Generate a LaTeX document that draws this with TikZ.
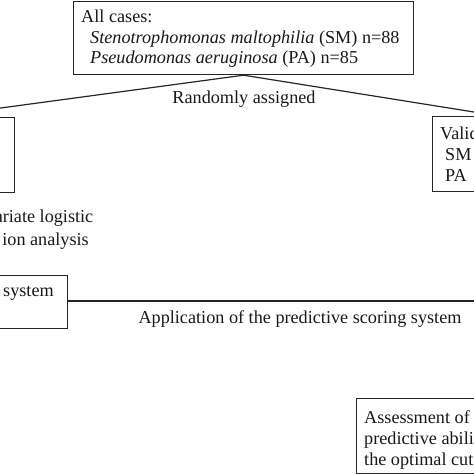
\documentclass[tikz,border=0pt]{standalone}
\usepackage{fontspec}
\setmainfont{Liberation Serif}
\begin{document}
\begin{tikzpicture}[x=1pt,y=-1pt,
  every node/.style={font=\fontsize{18.2}{21}\selectfont, text=black!90},
  boxed/.style={draw=black!85, line width=1.2pt, inner sep=0pt, rectangle},
  txt/.style={inner sep=0pt, anchor=base west},
  conn/.style={draw=black!85, line width=1.2pt}]
\useasboundingbox (0,0) rectangle (474,474);
\clip (0,0) rectangle (474,474);
% boxes
\node[boxed, minimum width=340pt, minimum height=73pt, anchor=north west] (all) at (73,1) {};
\node[boxed, minimum width=120pt, minimum height=75pt, anchor=north east] (train) at (15,117) {};
\node[boxed, minimum width=120pt, minimum height=75pt, anchor=north west] (valid) at (432,116) {};
\node[boxed, minimum width=150pt, minimum height=53pt, anchor=north east] (score) at (68,275) {};
\node[boxed, minimum width=150pt, minimum height=75pt, anchor=north west] (assess) at (356,398) {};
% texts
\node[txt] (t1) at (81,22) {All cases:};
\node[txt] (t2) at (90,43) {\textit{Stenotrophomonas maltophilia} (SM) n=88};
\node[txt] (t3) at (90,63) {\textit{Pseudomonas aeruginosa} (PA) n=85};
\node[txt] (v1) at (440,139) {Valid};
\node[txt] (v2) at (445,160) {SM};
\node[txt] (v3) at (445,181) {PA};
\node[inner sep=0pt, anchor=base east] (m1) at (93.5,222) {ariate logistic};
\node[inner sep=0pt, anchor=base east] (m2) at (89,245) {ion analysis};
\node[txt] (s1) at (3,296) {system};
\node[txt] (a1) at (364,423) {Assessment of};
\node[txt] (a2) at (364,444) {predictive abili};
\node[txt] (a3) at (364,465) {the optimal cut};
% connectors
\coordinate (lt) at (-100,121.6);
\coordinate (rt) at (574,128);
\coordinate (rs) at (600,301);
\draw[conn] (lt) -- (all.south) -- (rt);
\node[inner sep=0pt, anchor=base] (ra) at (244,103) {Randomly assigned};
\draw[conn] (score.east |- 0,301) -- (rs);
\node[inner sep=0pt, anchor=base] (ap) at (300,323) {Application of the predictive scoring system};
\end{tikzpicture}
\end{document}
